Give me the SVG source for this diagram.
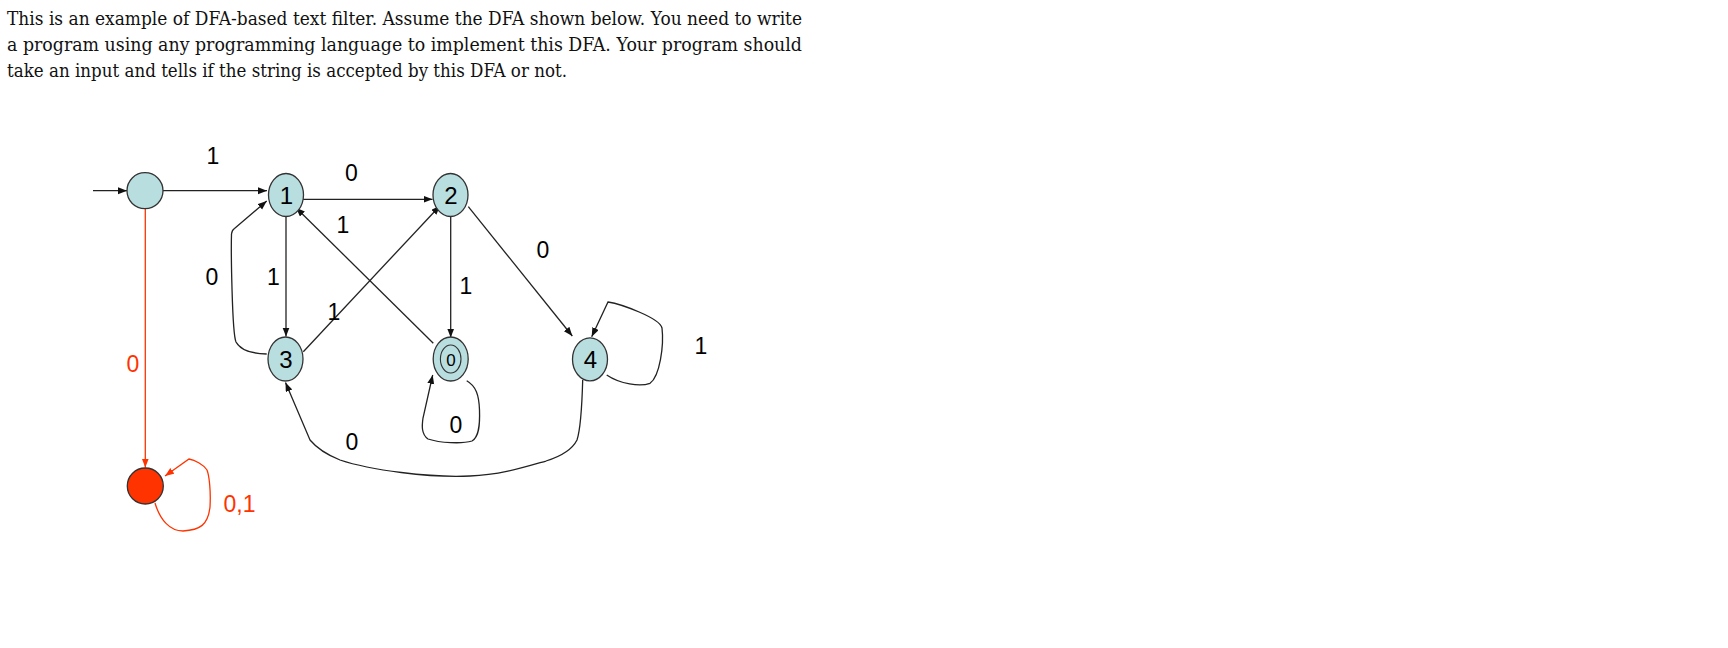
<svg xmlns="http://www.w3.org/2000/svg" width="1728" height="648" viewBox="0 0 1728 648">
<style>
.head{font-family:"DejaVu Serif","Liberation Serif",serif;font-size:19px;fill:#111}
.lbl{font-family:"Liberation Sans",Arial,sans-serif;font-size:23px;fill:#000;text-anchor:middle}
.nl{font-size:24px}
.red{fill:#ff3300}
.node{fill:#b9dee0;stroke:#333;stroke-width:1.3}
.edge{fill:none;stroke:#222;stroke-width:1.3}
.redge{fill:none;stroke:#ff3300;stroke-width:1.3}
</style>
<defs>
<marker id="ah" markerUnits="userSpaceOnUse" markerWidth="10" markerHeight="8" refX="9" refY="3.5" orient="auto">
<path d="M0,0 L9,3.5 L0,7 z" fill="#111"/>
</marker>
<marker id="rah" markerUnits="userSpaceOnUse" markerWidth="10" markerHeight="8" refX="9" refY="3.5" orient="auto">
<path d="M0,0 L9,3.5 L0,7 z" fill="#ff3300"/>
</marker>
</defs>
<rect width="1728" height="648" fill="#fff"/>
<g id="heading">
<text class="head" x="7" y="25" textLength="795" lengthAdjust="spacingAndGlyphs">This is an example of DFA-based text filter. Assume the DFA shown below. You need to write</text>
<text class="head" x="7" y="51" textLength="795" lengthAdjust="spacingAndGlyphs">a program using any programming language to implement this DFA. Your program should</text>
<text class="head" x="7" y="77" textLength="560" lengthAdjust="spacingAndGlyphs">take an input and tells if the string is accepted by this DFA or not.</text>
</g>
<g id="connectors">
<path class="edge" d="M93,190.7 L127,190.7" marker-end="url(#ah)"/>
<path class="edge" d="M163,190.7 L267,190.7" marker-end="url(#ah)"/>
<path class="edge" d="M303,199.3 L432.5,199.3" marker-end="url(#ah)"/>
<path class="edge" d="M286,216.5 L286,336.5" marker-end="url(#ah)"/>
<path class="edge" d="M266.7,354 C252,353.5 241,351 236,342 C232,333 231,250 231.5,234 Q232,230 234.5,228.5 L266.7,201" marker-end="url(#ah)"/>
<path class="edge" d="M303.3,351.7 L440,205.7" marker-end="url(#ah)"/>
<path class="edge" d="M433.3,343.3 L296,207.7" marker-end="url(#ah)"/>
<path class="edge" d="M450.7,216.5 L450.7,337.5" marker-end="url(#ah)"/>
<path class="edge" d="M468.3,206.7 L572.3,336" marker-end="url(#ah)"/>
<path class="edge" d="M606.7,375 C620,384 640,387 650,383.3 C660,376 664,345 662,328 C660,318 621,304 608,302 L591.7,336.7" marker-end="url(#ah)"/>
<path class="edge" d="M466.7,380.7 C476,386 479,395 479.5,410 C480,425 479,437 472,441 C462,444 440,443 428,439 C421,434 422,425 423,418 L432.7,375" marker-end="url(#ah)"/>
<path class="edge" d="M582.7,380 C582,405 581,428 577,440 C572,450 562,456 546,461 C525,467 500,475 470,476 C430,478 370,470 340,460 C325,454 315,446 310,440 L285.5,382.5" marker-end="url(#ah)"/>
<path class="redge" d="M145.3,208.7 L145.3,467.5" marker-end="url(#rah)"/>
<path class="redge" d="M155,503 C160,520 170,531 183,531 C200,530 208,525 210,507 C211,490 209,475 207,470 C204,465 195,460 189,459 L165,476" marker-end="url(#rah)"/>
</g>
<g id="node-start"><circle class="node" cx="145" cy="190.7" r="18"/></g>
<g id="node-1"><ellipse class="node" cx="286" cy="195" rx="17.5" ry="21.5"/><text class="lbl nl" x="286.5" y="204">1</text></g>
<g id="node-2"><ellipse class="node" cx="450.5" cy="195" rx="17.5" ry="21.5"/><text class="lbl nl" x="451" y="204">2</text></g>
<g id="node-3"><ellipse class="node" cx="285.5" cy="359" rx="17.5" ry="22"/><text class="lbl nl" x="286" y="367.5">3</text></g>
<g id="node-0"><ellipse class="node" cx="450.7" cy="359" rx="17.5" ry="22"/><ellipse cx="450.7" cy="359" rx="10.3" ry="14" fill="none" stroke="#333" stroke-width="1.1"/><text class="lbl" x="451" y="365.5" style="font-size:17px">0</text></g>
<g id="node-4"><ellipse class="node" cx="590" cy="359.3" rx="17.5" ry="21.5"/><text class="lbl nl" x="590.5" y="368">4</text></g>
<g id="node-dead"><circle cx="145.3" cy="486" r="18" fill="#ff3300" stroke="#333" stroke-width="1.3"/></g>
<g id="labels">
<text class="lbl" x="213" y="164">1</text>
<text class="lbl" x="351.5" y="181">0</text>
<text class="lbl" x="343" y="233">1</text>
<text class="lbl" x="212" y="285">0</text>
<text class="lbl" x="273.5" y="285">1</text>
<text class="lbl" x="334" y="319.5">1</text>
<text class="lbl" x="466" y="294">1</text>
<text class="lbl" x="543" y="258">0</text>
<text class="lbl" x="701" y="353.5">1</text>
<text class="lbl" x="456" y="432.5">0</text>
<text class="lbl" x="352" y="449.5">0</text>
<text class="lbl red" x="133" y="372">0</text>
<text class="lbl red" x="239.5" y="512">0,1</text>
</g>
</svg>
